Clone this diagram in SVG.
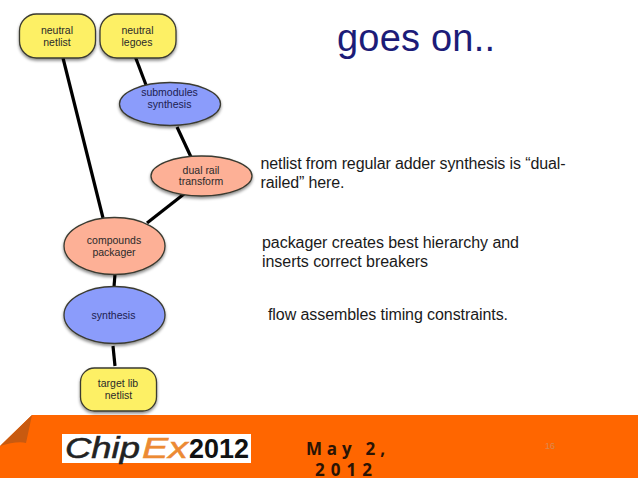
<svg xmlns="http://www.w3.org/2000/svg" width="638" height="478" viewBox="0 0 638 478">
<defs>
<filter id="sh" x="-20%" y="-20%" width="140%" height="150%"><feDropShadow dx="0" dy="2" stdDeviation="1.5" flood-color="#000" flood-opacity="0.45"/></filter>
</defs>
<style>
.n{font-family:"Liberation Sans",Arial,sans-serif;font-size:10.5px;text-anchor:middle;fill:#2a2a2a}
.b{fill:#1c1c50}
.s{stroke:#3a3a30;stroke-width:1.3;filter:url(#sh)}
.y{fill:#fdf065}.bl{fill:#8b9cfb}.o{fill:#fdb096}
.t{font-family:"Liberation Sans",Arial,sans-serif;font-size:16px;fill:#1a1a1a}
.d{font-family:"Open Sans",sans-serif;font-size:17px;font-weight:bold;fill:#2a1405}
#connectors line{stroke:#000;stroke-width:3.2}
</style>
<rect width="638" height="478" fill="#fff"/>
<g id="footer">
<path d="M32 415H638V478H0V446Z" fill="#ff6600"/>
<path d="M32 415L0 446C10 443 20 441 26 443Z" fill="#c85a10"/>
<rect x="62" y="434" width="189" height="29" fill="#fff"/>
<text x="65" y="458" font-family="Liberation Sans,sans-serif" font-size="29" font-style="italic" fill="#222" textLength="75" lengthAdjust="spacingAndGlyphs" stroke="#222" stroke-width=".5">Chip</text>
<text x="142" y="458" font-family="Liberation Sans,sans-serif" font-size="29" font-style="italic" fill="#ec8a33" textLength="46" lengthAdjust="spacingAndGlyphs" stroke="#ec8a33" stroke-width=".5">Ex</text>
<text x="189" y="458" font-family="Liberation Sans,sans-serif" font-size="27" font-weight="bold" fill="#111" textLength="60" lengthAdjust="spacingAndGlyphs">2012</text>
<text class="d" x="306" y="455" textLength="79">May 2,</text>
<text class="d" x="315" y="476" textLength="57">2012</text>
<text x="550" y="449" font-family="Liberation Sans,sans-serif" font-size="9" text-anchor="middle" fill="#d98a50">16</text>
</g>
<g id="connectors">
<line x1="63" y1="58" x2="103" y2="218"/>
<line x1="135" y1="56" x2="146" y2="85"/>
<line x1="177" y1="127" x2="191" y2="157"/>
<line x1="184" y1="194" x2="147" y2="223"/>
<line x1="115" y1="274" x2="114" y2="287"/>
<line x1="113" y1="346" x2="115" y2="366"/>
</g>
<g id="neutral-netlist"><rect class="s y" x="19.500" y="14" width="76" height="44" rx="17"/><text class="n" x="57" y="34">neutral</text><text class="n" x="57" y="45.500">netlist</text></g>
<g id="neutral-legoes"><rect class="s y" x="100" y="14" width="76" height="44" rx="17"/><text class="n" x="137.500" y="34">neutral</text><text class="n" x="137" y="45.500">legoes</text></g>
<g id="submodules-synthesis"><ellipse class="s bl" cx="170" cy="104" rx="50.500" ry="21.500"/><text class="n b" x="169.500" y="96">submodules</text><text class="n b" x="169.500" y="107.500">synthesis</text></g>
<g id="dual-rail-transform"><ellipse class="s o" cx="201.500" cy="176" rx="50.500" ry="20"/><text class="n" x="201" y="174">dual rail</text><text class="n" x="201" y="185">transform</text></g>
<g id="compounds-packager"><ellipse class="s o" cx="114.500" cy="246" rx="50.500" ry="28.500"/><text class="n" x="114" y="244">compounds</text><text class="n" x="114" y="256">packager</text></g>
<g id="synthesis"><ellipse class="s bl" cx="114.500" cy="315" rx="50.500" ry="28.500"/><text class="n b" x="113.500" y="319">synthesis</text></g>
<g id="target-lib-netlist"><rect class="s y" x="80.500" y="368" width="76" height="43" rx="14"/><text class="n" x="118" y="387">target lib</text><text class="n" x="118.500" y="399">netlist</text></g>
<g id="title"><text x="337" y="51" font-family="Liberation Sans,sans-serif" font-size="38" fill="#1c1c78" textLength="158">goes on..</text></g>
<g id="body">
<text class="t" x="260.500" y="169" textLength="305">netlist from regular adder synthesis is “dual-</text>
<text class="t" x="260.500" y="188" textLength="84">railed” here.</text>
<text class="t" x="262" y="248" textLength="257">packager creates best hierarchy and</text>
<text class="t" x="262" y="267" textLength="166">inserts correct breakers</text>
<text class="t" x="268" y="320" textLength="240">flow assembles timing constraints.</text>
</g>
</svg>
